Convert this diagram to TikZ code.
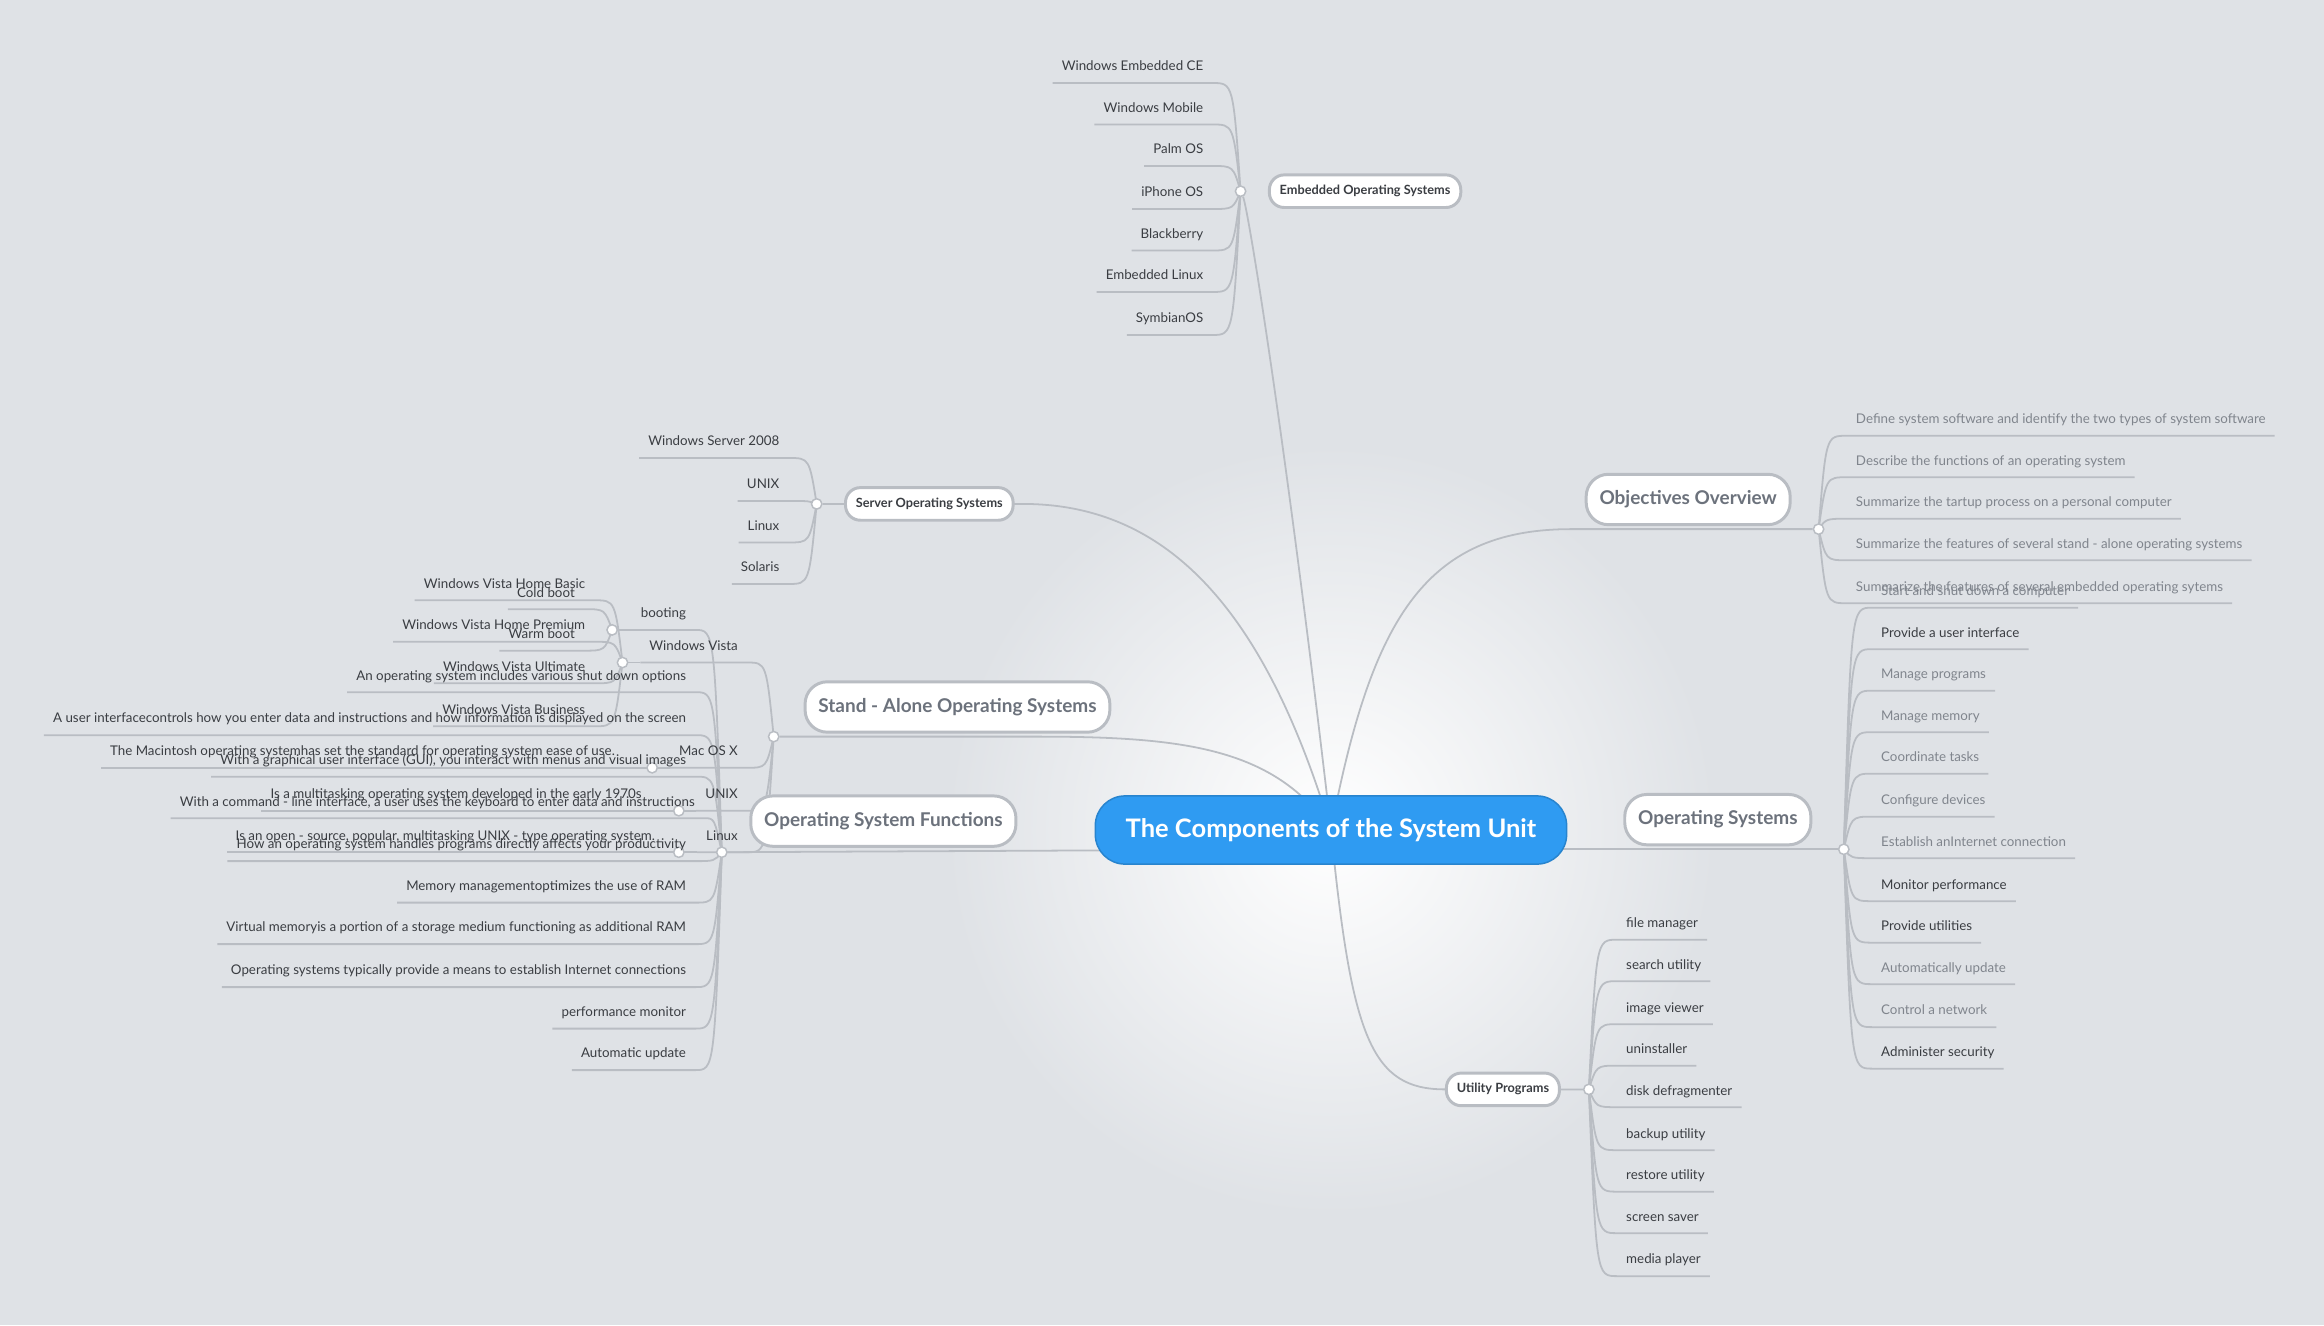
\documentclass[tikz,border=0pt]{standalone}
\usepackage{fontspec}
\setmainfont{Lato}
\usetikzlibrary{calc}
\definecolor{bgc}{HTML}{DFE2E6}
\definecolor{lnc}{HTML}{B9BDC3}
\definecolor{dk}{HTML}{3A3D42}
\definecolor{gy}{HTML}{80858D}
\definecolor{mt}{HTML}{6C727C}
\definecolor{blu}{HTML}{2F9BF2}
\pgfdeclarelayer{bgz}\pgfdeclarelayer{background}
\pgfsetlayers{bgz,background,main}
\tikzset{
 conn/.style={draw=lnc,line width=1.2pt},
 leaf/.style={inner xsep=6pt,inner ysep=6pt,text depth=2pt,text height=7pt,font=\fontsize{9}{10}\selectfont,text=dk},
 hubnode/.style={circle,draw=lnc,fill=white,line width=1pt,minimum size=7pt,inner sep=0pt},
 mainb/.style={rounded corners=15pt,draw=lnc,fill=white,line width=2pt,minimum height=34pt,inner xsep=9pt,font=\fontsize{12.8}{14}\selectfont\bfseries,text=mt},
 smallb/.style={rounded corners=10pt,draw=lnc,fill=white,line width=2pt,minimum height=22pt,inner xsep=7pt,font=\fontsize{8.6}{10}\selectfont\bfseries,text=dk},
}
\newcommand\rleaf[6]{\node[leaf,anchor=south west,text=#6] (#1) at (#3-6,#4) {#5};
 \begin{pgfonlayer}{background}\draw[conn] (#2.center) .. controls ($(#2.center |- #1.south)+(5,0)$) .. (#1.south west) -- (#1.south east);\end{pgfonlayer}}
\newcommand\lleaf[5]{\node[leaf,anchor=south east] (#1) at (#3+6,#4) {#5};
 \begin{pgfonlayer}{background}\draw[conn] (#2.center) .. controls ($(#2.center |- #1.south)+(-5,0)$) .. (#1.south east) -- (#1.south west);\end{pgfonlayer}}
\begin{document}
\begin{tikzpicture}[x=1pt,y=-1pt]
\begin{pgfonlayer}{bgz}
\fill[bgc] (0,0) rectangle (1568,894);
\shade[inner color=white,outer color=bgc] (898,560) circle (260);
\end{pgfonlayer}
\useasboundingbox (0,0) rectangle (1568,894);
% main nodes
\node[rounded corners=20pt,fill=blu,draw=blu!85!black,line width=1pt,minimum width=318pt,minimum height=46pt,text=white,font=\fontsize{17.2}{19}\selectfont\bfseries] (C) at (898,560) {The Components of the System Unit};
\node[mainb] (obj) at (1139,337) {Objectives Overview};
\node[mainb] (os) at (1159,553) {Operating Systems};
\node[mainb] (osf) at (596,554) {Operating System Functions};
\node[mainb] (sa) at (646,477) {Stand - Alone Operating Systems};
\node[smallb] (ut) at (1014,735) {Utility Programs};
\node[smallb] (sv) at (627,340) {Server Operating Systems};
\node[smallb] (em) at (921,129) {Embedded Operating Systems};
% hubs
\node[hubnode] (hObj) at (1227,357) {};
\node[hubnode] (hOS) at (1244,573) {};
\node[hubnode] (hUt) at (1072,735) {};
\node[hubnode] (hEm) at (837,129) {};
\node[hubnode] (hSv) at (551,340) {};
\node[hubnode] (hSA) at (522,497) {};
\node[hubnode] (hOSF) at (487,575) {};
\node[hubnode] (hWV) at (420,447) {};
\node[hubnode] (hMac) at (440,518) {};
\node[hubnode] (hUx) at (458,547) {};
\node[hubnode] (hLx) at (458,575) {};
\node[hubnode] (hBt) at (413,425) {};
% main connectors
\begin{pgfonlayer}{background}
\draw[conn] (C.center) .. controls (925,420) and (960,357) .. (1060,357) -- (hObj);
\draw[conn] ([yshift=-13pt]C.center) -- (hOS);
\draw[conn] ([yshift=-13pt]C.center) -- (hOSF);
\draw[conn] (C.center) .. controls (912,700) and (925,735) .. (975,735) -- (hUt);
\draw[conn] (C.center) .. controls (860,505) and (800,497) .. (700,497) -- (hSA);
\draw[conn] (C.center) .. controls (850,400) and (780,340) .. (690,340) -- (hSv);
\draw[conn] (C.center) .. controls (868,300) and (842,140) .. (hEm);
\end{pgfonlayer}
% objectives
\rleaf{o1}{hObj}{1252}{294}{Define system software and identify the two types of system software}{gy}
\rleaf{o2}{hObj}{1252}{322}{Describe the functions of an operating system}{gy}
\rleaf{o3}{hObj}{1252}{350}{Summarize the tartup process on a personal computer}{gy}
\rleaf{o4}{hObj}{1252}{378}{Summarize the features of several stand - alone operating systems}{gy}
\rleaf{o5}{hObj}{1252}{407}{Summarize the features of several embedded operating sytems}{gy}
% operating systems
\rleaf{s1}{hOS}{1269}{410}{Start and shut down a computer}{gy}
\rleaf{s2}{hOS}{1269}{438}{Provide a user interface}{dk}
\rleaf{s3}{hOS}{1269}{466}{Manage programs}{gy}
\rleaf{s4}{hOS}{1269}{494}{Manage memory}{gy}
\rleaf{s5}{hOS}{1269}{522}{Coordinate tasks}{gy}
\rleaf{s6}{hOS}{1269}{551}{Configure devices}{gy}
\rleaf{s7}{hOS}{1269}{579}{Establish anInternet connection}{gy}
\rleaf{s8}{hOS}{1269}{608}{Monitor performance}{dk}
\rleaf{s9}{hOS}{1269}{636}{Provide utilities}{dk}
\rleaf{s10}{hOS}{1269}{664}{Automatically update}{gy}
\rleaf{s11}{hOS}{1269}{693}{Control a network}{gy}
\rleaf{s12}{hOS}{1269}{721}{Administer security}{dk}
% utilities
\rleaf{u1}{hUt}{1097}{634}{file manager}{dk}
\rleaf{u2}{hUt}{1097}{662}{search utility}{dk}
\rleaf{u3}{hUt}{1097}{691}{image viewer}{dk}
\rleaf{u4}{hUt}{1097}{719}{uninstaller}{dk}
\rleaf{u5}{hUt}{1097}{747}{disk defragmenter}{dk}
\rleaf{u6}{hUt}{1097}{776}{backup utility}{dk}
\rleaf{u7}{hUt}{1097}{804}{restore utility}{dk}
\rleaf{u8}{hUt}{1097}{832}{screen saver}{dk}
\rleaf{u9}{hUt}{1097}{861}{media player}{dk}
% embedded
\lleaf{e1}{hEm}{812}{56}{Windows Embedded CE}
\lleaf{e2}{hEm}{812}{84}{Windows Mobile}
\lleaf{e3}{hEm}{812}{112}{Palm OS}
\lleaf{e4}{hEm}{812}{141}{iPhone OS}
\lleaf{e5}{hEm}{812}{169}{Blackberry}
\lleaf{e6}{hEm}{812}{197}{Embedded Linux}
\lleaf{e7}{hEm}{812}{226}{SymbianOS}
% server
\lleaf{v1}{hSv}{526}{309}{Windows Server 2008}
\lleaf{v2}{hSv}{526}{338}{UNIX}
\lleaf{v3}{hSv}{526}{366}{Linux}
\lleaf{v4}{hSv}{526}{394}{Solaris}
% stand-alone
\lleaf{a1}{hSA}{498}{447}{Windows Vista}
\lleaf{a2}{hSA}{498}{518}{Mac OS X}
\lleaf{a3}{hSA}{498}{547}{UNIX}
\lleaf{a4}{hSA}{498}{575}{Linux}
\begin{pgfonlayer}{background}
\draw[conn] (a1.south west) -- (hWV.center);
\draw[conn] (a2.south west) -- (hMac.center);
\draw[conn] (a3.south west) -- (hUx.center);
\draw[conn] (a4.south west) -- (hLx.center);
\end{pgfonlayer}
\lleaf{w1}{hWV}{395}{405}{Windows Vista Home Basic}
\lleaf{w2}{hWV}{395}{433}{Windows Vista Home Premium}
\lleaf{w3}{hWV}{395}{461}{Windows Vista Ultimate}
\lleaf{w4}{hWV}{395}{490}{Windows Vista Business}
\lleaf{m1}{hMac}{415}{518}{The Macintosh operating systemhas set the standard for operating system ease of use.}
\lleaf{x1}{hUx}{433}{547}{Is a multitasking operating system developed in the early 1970s}
\lleaf{l1}{hLx}{442}{575}{Is an open - source, popular, multitasking UNIX - type operating system.}
% os functions
\lleaf{f1}{hOSF}{463}{425}{booting}
\begin{pgfonlayer}{background}\draw[conn] (f1.south west) -- (hBt.center);\end{pgfonlayer}
\lleaf{b1}{hBt}{388}{411}{Cold boot}
\lleaf{b2}{hBt}{388}{439}{Warm boot}
\lleaf{f2}{hOSF}{463}{467}{An operating system includes various shut down options}
\lleaf{f3}{hOSF}{463}{496}{A user interfacecontrols how you enter data and instructions and how information is displayed on the screen}
\lleaf{f4}{hOSF}{463}{524}{With a graphical user interface (GUI), you interact with menus and visual images}
\lleaf{f5}{hOSF}{469}{552}{With a command - line interface, a user uses the keyboard to enter data and instructions}
\lleaf{f6}{hOSF}{463}{581}{How an operating system handles programs directly affects your productivity}
\lleaf{f7}{hOSF}{463}{609}{Memory managementoptimizes the use of RAM}
\lleaf{f8}{hOSF}{463}{637}{Virtual memoryis a portion of a storage medium functioning as additional RAM}
\lleaf{f9}{hOSF}{463}{666}{Operating systems typically provide a means to establish Internet connections}
\lleaf{f10}{hOSF}{463}{694}{performance monitor}
\lleaf{f11}{hOSF}{463}{722}{Automatic update}
\end{tikzpicture}
\end{document}
